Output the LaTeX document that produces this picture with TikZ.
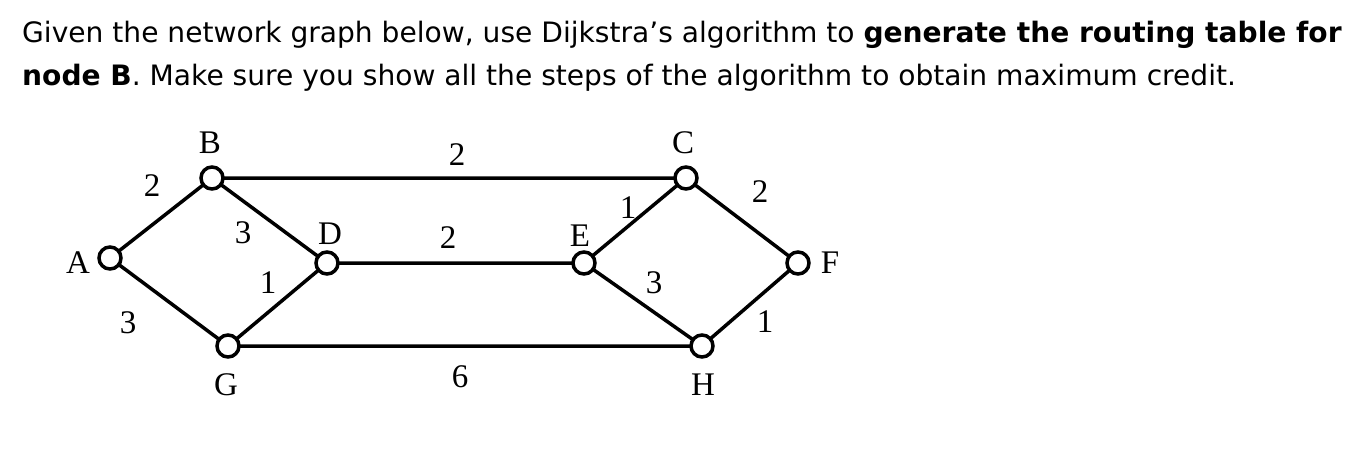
\documentclass[tikz,border=0pt]{standalone}
\usepackage{fontspec}
\setmainfont{DejaVu Sans}
\newfontfamily\serif{Liberation Serif}
\begin{document}
\begin{tikzpicture}[x=1pt,y=-1pt,
  vtx/.style={circle,draw,line width=3.5pt,fill=white,minimum size=22pt,inner sep=0pt},
  edge/.style={line width=3.5pt},
  lab/.style={font=\serif\fontsize{33}{33}\selectfont,inner sep=0pt},
  txt/.style={anchor=west,inner sep=0pt,font=\fontsize{28.1}{28}\selectfont}]
\useasboundingbox (0,0) rectangle (1370,460);
\node[txt] (t1) at (22,35) {Given the network graph below, use Dijkstra’s algorithm to \textbf{generate the routing table for}};
\node[txt] (t2) at (22,78) {\textbf{node B}. Make sure you show all the steps of the algorithm to obtain maximum credit.};
\coordinate (A) at (110,258);
\coordinate (B) at (212,178);
\coordinate (C) at (686,178);
\coordinate (D) at (327,263);
\coordinate (E) at (584,263);
\coordinate (F) at (798,263);
\coordinate (G) at (228,346);
\coordinate (H) at (702,346);
\draw[edge] (A)--(B) (A)--(G) (B)--(C) (B)--(D) (D)--(G) (D)--(E) (E)--(C) (E)--(H) (C)--(F) (F)--(H) (G)--(H);
\foreach \n in {A,B,C,D,E,F,G,H} \node[vtx] (v\n) at (\n) {};
\node[lab] (lA) at (78,263) {A};
\node[lab] (lB) at (210,143) {B};
\node[lab] (lC) at (683,143) {C};
\node[lab] (lD) at (330,234) {D};
\node[lab] (lE) at (580,236) {E};
\node[lab] (lF) at (830,263) {F};
\node[lab] (lG) at (226,385) {G};
\node[lab] (lH) at (703,385) {H};
\node[lab] (e1) at (152,186) {2};
\node[lab] (e2) at (457,155) {2};
\node[lab] (e3) at (243,233) {3};
\node[lab] (e4) at (268,283) {1};
\node[lab] (e5) at (448,238) {2};
\node[lab] (e6) at (628,208) {1};
\node[lab] (e7) at (760,192) {2};
\node[lab] (e8) at (654,283) {3};
\node[lab] (e9) at (765,322) {1};
\node[lab] (e10) at (128,323) {3};
\node[lab] (e11) at (460,377) {6};
\end{tikzpicture}
\end{document}
